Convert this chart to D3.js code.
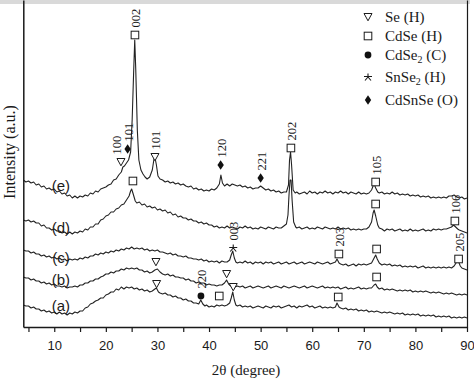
<!DOCTYPE html>
<html><head><meta charset="utf-8">
<script src="https://cdn.jsdelivr.net/npm/d3@7"></script>
<style>body{margin:0;background:#fff}svg{display:block}</style>
</head><body><svg id="c" width="474" height="381"></svg>
<script>
// ---- data (2θ in degrees, intensity in a.u., curves offset vertically as in the figure) ----
const curveA = [[4,22],[4.5,21],[5,21],[5.5,19],[6,20],[6.5,18],[7,18],[7.5,16],[8,17],[8.5,15],[9,16],[9.5,14],[10,15],[10.5,13],[11,15],[11.5,13],[12,14],[12.5,12],[13,14],[13.5,13],[14,15],[14.5,14],[15,16],[15.5,16],[16,19],[16.5,20],[17,23],[17.5,24],[18,26],[18.5,27],[19,29],[19.5,29],[20,32],[20.5,33],[21,35],[21.5,35],[22,38],[22.5,37],[23,40],[23.5,38],[24,40],[24.5,39],[25,40],[25.5,38],[26,39],[26.5,37],[27,38],[27.5,36],[28,37],[28.5,35],[29,36],[29.5,38],[29.8,39],[30.2,35],[30.5,34],[31,33],[31.5,34],[32,32],[32.5,32],[33,30],[33.5,31],[34,29],[34.5,29],[35,27],[35.5,28],[36,26],[36.5,26],[37,24],[37.5,24],[38,23],[38.4,27],[38.8,23],[39.2,21],[39.5,22],[40,20],[40.5,21],[41,20],[41.5,22],[42,21],[42.5,22],[43,21],[43.5,22],[44,24],[44.3,29],[44.6,35],[44.9,27],[45.2,22],[45.5,21],[46,22],[46.5,20],[47,21],[47.5,20],[48,21],[48.5,19],[49,20],[49.5,21],[50,20],[50.5,19],[51,21],[51.5,20],[52,19],[52.5,21],[53,20],[53.5,21],[54,19],[54.5,20],[55,21],[55.5,22],[56,20],[56.5,21],[57,19],[57.5,21],[58,20],[58.5,21],[59,22],[59.5,20],[60,21],[60.5,19],[61,20],[61.5,21],[62,19],[62.5,20],[63,19],[63.5,20],[64,19],[64.5,20],[64.8,24],[65.2,20],[65.5,19],[66,18],[66.5,19],[67,17],[67.5,18],[68,17],[68.5,18],[69,16],[69.5,17],[70,16],[70.5,17],[71,15],[71.5,16],[72,15],[72.5,16],[73,15],[73.5,14],[74,15],[74.5,14],[75,15],[75.5,14],[76,13],[76.5,14],[77,13],[77.5,14],[78,12],[78.5,13],[79,12],[79.5,13],[80,12],[80.5,13],[81,11],[81.5,12],[82,11],[82.5,12],[83,11],[83.5,12],[84,10],[84.5,11],[85,10],[85.5,11],[86,10],[86.5,11],[87,9],[87.5,10],[88,9],[88.5,10],[89,9],[89.5,10],[90,9]];
const curveB = [[4,50],[4.5,49],[5,49],[5.5,47],[6,48],[6.5,46],[7,46],[7.5,44],[8,45],[8.5,43],[9,44],[9.5,42],[10,43],[10.5,41],[11,41],[11.5,40],[12,41],[12.5,39],[13,40],[13.5,40],[14,41],[14.5,40],[15,42],[15.5,42],[16,44],[16.5,44],[17,46],[17.5,46],[18,48],[18.5,48],[19,50],[19.5,51],[20,53],[20.5,53],[21,55],[21.5,54],[22,56],[22.5,56],[23,58],[23.5,57],[24,59],[24.5,58],[25,59],[25.5,58],[26,59],[26.5,57],[27,57],[27.5,55],[28,56],[28.5,54],[29,55],[29.5,57],[30,58],[30.5,55],[31,53],[31.5,52],[32,53],[32.5,51],[33,52],[33.5,50],[34,50],[34.5,49],[35,49],[35.5,47],[36,48],[36.5,46],[37,46],[37.5,44],[38,45],[38.5,44],[39,44],[39.5,42],[40,43],[40.5,42],[41,42],[41.5,41],[42,42],[42.5,42],[43,44],[43.4,47],[43.8,43],[44.2,41],[44.6,42],[45,40],[45.5,41],[46,40],[46.5,41],[47,39],[47.5,40],[48,41],[48.5,39],[49,40],[49.5,41],[50,40],[50.5,39],[51,40],[51.5,41],[52,39],[52.5,40],[53,41],[53.5,40],[54,39],[54.5,41],[55,40],[55.5,39],[56,40],[56.5,41],[57,40],[57.5,39],[58,40],[58.5,41],[59,39],[59.5,40],[60,41],[60.5,40],[61,39],[61.5,40],[62,41],[62.5,39],[63,40],[63.5,39],[64,40],[64.5,39],[65,40],[65.5,38],[66,39],[66.5,40],[67,38],[67.5,39],[68,38],[68.5,39],[69,40],[69.5,38],[70,39],[70.5,38],[71,39],[71.5,39],[72,42],[72.3,43],[72.6,40],[73,38],[73.5,39],[74,37],[74.5,38],[75,37],[75.5,38],[76,37],[76.5,36],[77,37],[77.5,36],[78,37],[78.5,36],[79,37],[79.5,35],[80,36],[80.5,35],[81,36],[81.5,35],[82,36],[82.5,35],[83,34],[83.5,35],[84,34],[84.5,35],[85,34],[85.5,33],[86,34],[86.5,33],[87,34],[87.5,33],[88,32],[88.5,33],[89,32],[89.5,33],[90,32]];
const curveC = [[4,77],[4.5,76],[5,76],[5.5,74],[6,75],[6.5,73],[7,73],[7.5,71],[8,72],[8.5,70],[9,71],[9.5,69],[10,70],[10.5,68],[11,69],[11.5,67],[12,68],[12.5,66],[13,68],[13.5,67],[14,68],[14.5,67],[15,69],[15.5,68],[16,70],[16.5,69],[17,71],[17.5,71],[18,73],[18.5,72],[19,74],[19.5,73],[20,75],[20.5,74],[21,76],[21.5,75],[22,77],[22.5,76],[23,78],[23.5,77],[24,79],[24.5,78],[25,80],[25.5,78],[26,79],[26.5,78],[27,79],[27.5,77],[28,78],[28.5,76],[29,77],[29.5,76],[30,77],[30.5,75],[31,75],[31.5,74],[32,73],[32.5,74],[33,72],[33.5,73],[34,71],[34.5,71],[35,70],[35.5,71],[36,69],[36.5,69],[37,68],[37.5,68],[38,67],[38.5,68],[39,66],[39.5,67],[40,65],[40.5,66],[41,65],[41.5,66],[42,64],[42.5,66],[43,65],[43.5,65],[44,67],[44.3,72],[44.6,76],[44.9,69],[45.2,65],[45.5,64],[46,65],[46.5,64],[47,66],[47.5,64],[48,65],[48.5,63],[49,65],[49.5,64],[50,65],[50.5,63],[51,65],[51.5,64],[52,65],[52.5,63],[53,64],[53.5,65],[54,63],[54.5,64],[55,65],[55.5,63],[56,64],[56.5,65],[57,63],[57.5,64],[58,65],[58.5,63],[59,64],[59.5,65],[60,64],[60.5,63],[61,65],[61.5,64],[62,63],[62.5,64],[63,65],[63.5,63],[64,64],[64.5,65],[64.8,68],[65.2,64],[65.5,63],[66,62],[66.5,63],[67,61],[67.5,62],[68,63],[68.5,61],[69,63],[69.5,62],[70,63],[70.5,62],[71,63],[71.5,64],[72,69],[72.3,72],[72.6,68],[73,64],[73.5,62],[74,63],[74.5,62],[75,63],[75.5,61],[76,62],[76.5,61],[77,62],[77.5,60],[78,61],[78.5,60],[79,61],[79.5,60],[80,61],[80.5,59],[81,60],[81.5,61],[82,59],[82.5,60],[83,59],[83.5,60],[84,59],[84.5,60],[85,59],[85.5,60],[86,59],[86.5,60],[87,59],[87.5,61],[88,65],[88.3,66],[88.7,61],[89,59],[89.5,58],[90,57]];
const curveD = [[4,107],[4.5,106],[5,107],[5.5,105],[6,106],[6.5,104],[7,104],[7.5,101],[8,102],[8.5,99],[9,99],[9.5,97],[10,98],[10.5,96],[11,96],[11.5,94],[12,95],[12.5,93],[13,95],[13.5,93],[14,95],[14.5,94],[15,96],[15.5,95],[16,98],[16.5,97],[17,100],[17.5,100],[18,103],[18.5,103],[19,107],[19.5,108],[20,111],[20.5,112],[21,115],[21.5,115],[22,118],[22.5,119],[23,122],[23.5,123],[24,127],[24.5,131],[24.8,136],[25,138],[25.3,133],[25.7,126],[26,124],[26.5,125],[27,122],[27.5,123],[28,120],[28.5,121],[29,119],[29.5,120],[30,117],[30.5,118],[31,116],[31.5,117],[32,114],[32.5,115],[33,112],[33.5,113],[34,110],[34.5,111],[35,109],[35.5,109],[36,107],[36.5,108],[37,106],[37.5,106],[38,104],[38.5,105],[39,103],[39.5,104],[40,102],[40.5,102],[41,100],[41.5,101],[42,99],[42.5,100],[43,99],[43.5,101],[44,99],[44.5,100],[45,99],[45.5,98],[46,100],[46.5,99],[47,101],[47.5,99],[48,100],[48.5,98],[49,99],[49.5,98],[50,100],[50.5,99],[51,98],[51.5,100],[52,99],[52.5,98],[53,100],[53.5,99],[54,99],[54.5,101],[55,103],[55.3,112],[55.5,132],[55.7,147],[55.9,147],[56.1,127],[56.4,105],[56.8,100],[57,99],[57.5,100],[58,98],[58.5,99],[59,100],[59.5,98],[60,99],[60.5,98],[61,100],[61.5,99],[62,98],[62.5,100],[63,99],[63.5,98],[64,99],[64.5,98],[65,100],[65.5,98],[66,99],[66.5,98],[67,99],[67.5,97],[68,98],[68.5,97],[69,98],[69.5,97],[70,98],[70.5,98],[71,100],[71.5,105],[71.8,114],[72,117],[72.3,111],[72.7,102],[73,99],[73.5,98],[74,96],[74.5,98],[75,97],[75.5,98],[76,96],[76.5,97],[77,98],[77.5,96],[78,97],[78.5,96],[79,98],[79.5,96],[80,97],[80.5,96],[81,97],[81.5,98],[82,96],[82.5,97],[83,96],[83.5,98],[84,97],[84.5,98],[85,97],[85.5,98],[86,98],[86.5,99],[87,100],[87.4,102],[87.8,100],[88.2,98],[88.5,97],[89,96],[89.5,95],[90,94]];
const curveE = [[4,147],[4.5,145],[5,146],[5.5,144],[6,145],[6.5,142],[7,143],[7.5,140],[8,141],[8.5,138],[9,139],[9.5,137],[10,138],[10.5,135],[11,136],[11.5,133],[12,134],[12.5,131],[13,132],[13.5,129],[14,131],[14.5,129],[15,131],[15.5,130],[16,132],[16.5,131],[17,134],[17.5,133],[18,136],[18.5,135],[19,138],[19.5,139],[20,140],[20.5,142],[21,143],[21.5,147],[22,148],[22.5,152],[23,155],[23.3,160],[23.6,161],[24,164],[24.4,167],[24.8,175],[25.1,207],[25.4,257],[25.6,287],[25.8,257],[26.1,197],[26.4,167],[26.8,157],[27.2,153],[27.6,150],[28,148],[28.5,150],[29,157],[29.3,167],[29.5,170],[29.8,162],[30.1,151],[30.5,148],[31,147],[31.5,145],[32,146],[32.5,144],[33,145],[33.5,143],[34,144],[34.5,142],[35,143],[35.5,141],[36,140],[36.5,141],[37,138],[37.5,139],[38,137],[38.5,138],[39,136],[39.5,137],[40,136],[40.5,138],[41,137],[41.5,139],[42,143],[42.3,152],[42.6,144],[43,141],[43.5,143],[44,141],[44.5,143],[45,142],[45.5,141],[46,142],[46.5,140],[47,141],[47.5,139],[48,140],[48.5,138],[49,139],[49.5,139],[50,141],[50.5,139],[51,137],[51.5,138],[52,136],[52.5,137],[53,135],[53.5,136],[54,134],[54.5,135],[55,135],[55.4,142],[55.6,167],[55.8,175],[56,162],[56.3,137],[56.7,134],[57,135],[57.5,133],[58,134],[58.5,135],[59,133],[59.5,136],[60,134],[60.5,135],[61,133],[61.5,135],[62,134],[62.5,136],[63,134],[63.5,135],[64,133],[64.5,135],[65,134],[65.5,136],[66,134],[66.5,135],[67,133],[67.5,135],[68,134],[68.5,133],[69,135],[69.5,133],[70,134],[70.5,133],[71,134],[71.5,137],[71.8,141],[72,143],[72.3,139],[72.7,135],[73,134],[73.5,135],[74,133],[74.5,134],[75,133],[75.5,135],[76,133],[76.5,134],[77,132],[77.5,133],[78,132],[78.5,133],[79,131],[79.5,132],[80,131],[80.5,132],[81,130],[81.5,131],[82,130],[82.5,131],[83,129],[83.5,130],[84,129],[84.5,130],[85,129],[85.5,130],[86,129],[86.5,131],[87,131],[87.5,132],[88,130],[88.5,129],[89,130],[89.5,128],[90,129]];

const curveNames = ["(a)","(b)","(c)","(d)","(e)"];
const curveNameLevel = [22, 48, 70, 100, 142];
const curveNameTheta = 11.3;

const xTicks = [10,20,30,40,50,60,70,80,90];
const xMinorTicks = [5,15,25,35,45,55,65,75,85];

// phase markers on the patterns
const markerType  = ["tri","dia","sq","tri","dia","dia","sq","sq", "sq","sq","sq", "star","sq","sq","sq", "tri","tri","sq", "tri","circ","sq","tri","sq"];
const markerTheta = [22.93,24.22,25.64,29.52,42.25,50.0,55.87,72.29, 25.25,72.29,87.65, 44.69,65.17,72.48,88.37, 29.71,43.41,72.48, 29.84,38.43,41.98,44.69,65.04];
const markerLevel = [165,178,292,170,162,149,179,145, 146,123,106, 79,73,78,68, 65,53,50, 43,31,31,40,30];
const markerLabel = ["100","101","002","101","120","221","202","105", "","","106", "003","203","","205", "","","", "","220","","",""];

const legendTypes = ["tri","sq","circ","star","dia"];
const legendNames = [["Se (H)"],["CdSe (H)"],["CdSe","2"," (C)"],["SnSe","2"," (H)"],["CdSnSe (O)"]];

// ---- drawing ----
const svg = d3.select("#c");
const serif = "'Liberation Serif','Times New Roman',serif";
const sans = "'Liberation Sans',Arial,sans-serif";
const ink = "#1a1a1a";

const x = d3.scaleLinear().domain([4, 90]).range([23.3, 467]);
const y = d3.scaleLinear().domain([0, 325]).range([327, 2]);

svg.append("rect").attr("x",0).attr("y",0).attr("width",470).attr("height",4).attr("fill","#d9d9d9");

const line = d3.line().x(d => x(d[0])).y(d => y(d[1]));
[curveA, curveB, curveC, curveD, curveE].forEach(c => {
  svg.append("path").datum(c).attr("d", line)
    .attr("fill","none").attr("stroke","#222").attr("stroke-width",1.1).attr("stroke-linejoin","round");
});

// axes
const gx = svg.append("g").attr("transform","translate(0,327)")
  .call(d3.axisBottom(x).tickValues(xTicks).tickSize(5).tickSizeOuter(0).tickPadding(9));
gx.select(".domain").attr("stroke",ink).attr("stroke-width",1.5);
gx.selectAll(".tick line").attr("stroke",ink).attr("stroke-width",1.2);
gx.selectAll(".tick text").attr("font-family",sans).attr("font-size",13).attr("fill",ink);
const gm = svg.append("g").attr("transform","translate(0,327)")
  .call(d3.axisBottom(x).tickValues(xMinorTicks).tickSize(5).tickSizeOuter(0).tickFormat(""));
gm.select(".domain").remove();
gm.selectAll(".tick line").attr("stroke",ink).attr("stroke-width",1.2);

const gy = svg.append("g").attr("transform","translate(23.3,0)")
  .call(d3.axisLeft(d3.scaleLinear().domain([0,1]).range([327,0])).tickValues([]).tickSizeOuter(0));
gy.select(".domain").attr("stroke",ink).attr("stroke-width",1.5);
const gr = svg.append("g").attr("transform","translate(467,0)")
  .call(d3.axisRight(d3.scaleLinear().domain([0,1]).range([327,0])).tickValues([]).tickSizeOuter(0));
gr.select(".domain").attr("stroke",ink).attr("stroke-width",1.2);

svg.append("text").attr("x",246).attr("y",375).attr("text-anchor","middle")
  .attr("font-family",serif).attr("font-size",15).attr("fill",ink).text("2θ (degree)");
svg.append("text").attr("transform","translate(15,152) rotate(-90)").attr("text-anchor","middle")
  .attr("font-family",serif).attr("font-size",16).attr("fill",ink).text("Intensity (a.u.)");

// symbols
function drawSymbol(g, type, cx, cy) {
  if (type === "tri") {
    g.append("path").attr("d",`M${cx-4},${cy-3.5}L${cx+4},${cy-3.5}L${cx},${cy+3.8}Z`)
      .attr("fill","#fff").attr("stroke",ink).attr("stroke-width",1);
  } else if (type === "sq") {
    g.append("rect").attr("x",cx-3.8).attr("y",cy-3.8).attr("width",7.6).attr("height",7.6)
      .attr("fill","#fff").attr("stroke",ink).attr("stroke-width",1);
  } else if (type === "circ") {
    g.append("circle").attr("cx",cx).attr("cy",cy).attr("r",3.4).attr("fill","#111");
  } else if (type === "dia") {
    g.append("path").attr("d",`M${cx},${cy-4.8}L${cx+3.2},${cy}L${cx},${cy+4.8}L${cx-3.2},${cy}Z`).attr("fill","#111");
  } else if (type === "star") {
    g.append("path").attr("d",`M${cx-4},${cy-0.5}L${cx+4},${cy-0.5}M${cx},${cy-3.5}L${cx},${cy}M${cx},${cy}L${cx-3},${cy+3.5}M${cx},${cy}L${cx+3},${cy+3.5}`)
      .attr("fill","none").attr("stroke",ink).attr("stroke-width",1.1);
  }
}

const gMarks = svg.append("g");
markerType.forEach((t, i) => {
  const cx = x(markerTheta[i]), cy = y(markerLevel[i]);
  drawSymbol(gMarks, t, cx, cy);
  if (markerLabel[i]) {
    const dx = markerLabel[i] === "100" ? -3.5 : 1.2;
    gMarks.append("text").attr("transform",`translate(${cx+dx},${cy-17}) rotate(-90)`)
      .attr("text-anchor","middle").attr("dominant-baseline","central")
      .attr("font-family",serif).attr("font-size",12.5).attr("fill",ink).text(markerLabel[i]);
  }
});

curveNames.forEach((n, i) => {
  svg.append("text").attr("x", x(curveNameTheta)).attr("y", y(curveNameLevel[i]))
    .attr("text-anchor","middle").attr("dominant-baseline","central")
    .attr("font-family",sans).attr("font-size",15).attr("fill",ink).text(n);
});

// legend
const legY = [17, 36, 55, 77, 100];
legendTypes.forEach((t, i) => {
  drawSymbol(svg, t, 368, legY[i]);
  const tx = svg.append("text").attr("x",385).attr("y",legY[i]).attr("dominant-baseline","central")
    .attr("font-family",serif).attr("font-size",15).attr("fill",ink);
  const parts = legendNames[i];
  tx.append("tspan").text(parts[0]);
  if (parts.length > 1) {
    tx.append("tspan").attr("font-size",10).attr("dy",4).text(parts[1]);
    tx.append("tspan").attr("dy",-4).text(parts[2]);
  }
});
</script>
</body></html>
